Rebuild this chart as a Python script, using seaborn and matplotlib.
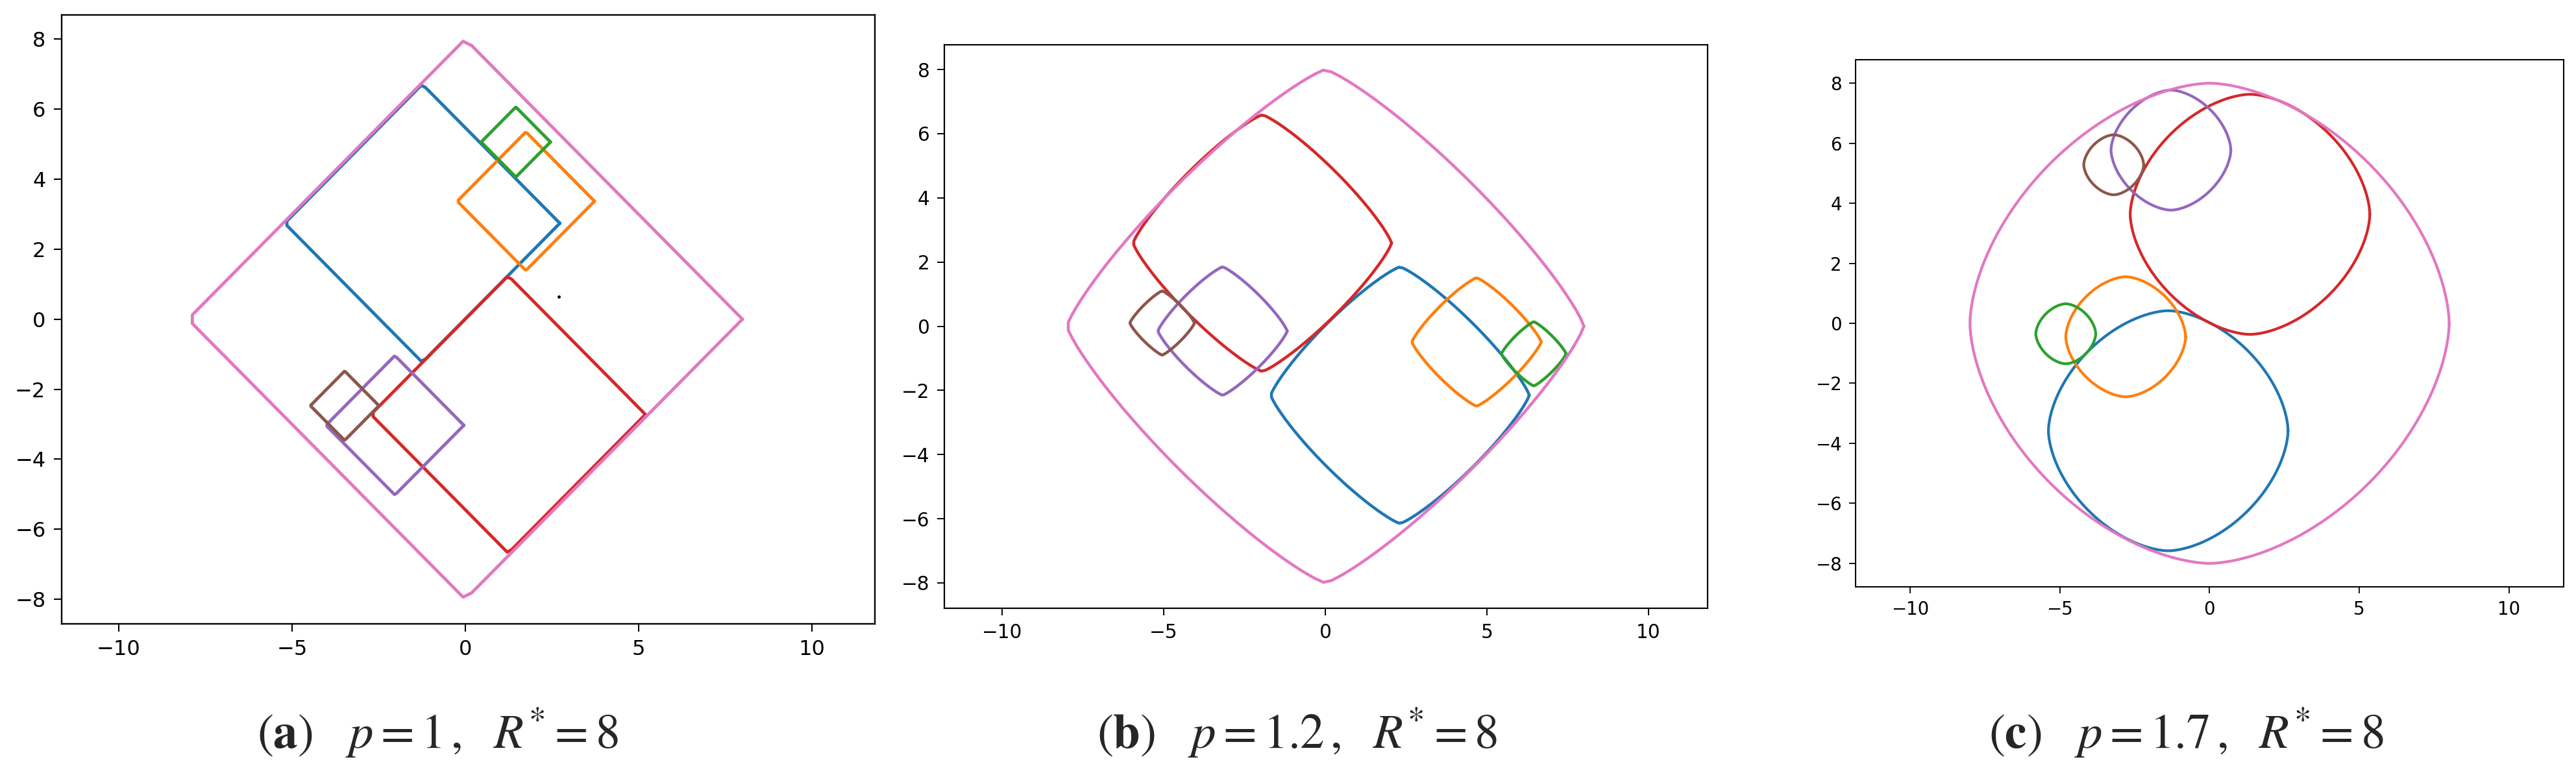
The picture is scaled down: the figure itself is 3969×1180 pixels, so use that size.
import numpy as np
import matplotlib
matplotlib.use("Agg")
import matplotlib.pyplot as plt
import seaborn as sns

sns.set_style("ticks")
plt.rcParams["font.family"] = ["DejaVu Sans"]
plt.rcParams["mathtext.fontset"] = "stix"

# centres and radii of the p-norm circles
# order: blue, orange, green, red, purple, brown, pink (container)
p_values = [1.0, 1.2, 1.7]
captions = [r"$(\mathbf{a})\ \ \ p=1\,,\ \ R^{*}=8$",
            r"$(\mathbf{b})\ \ \ p=1.2\,,\ \ R^{*}=8$",
            r"$(\mathbf{c})\ \ \ p=1.7\,,\ \ R^{*}=8$"]

cx_a = [-1.24, 1.75, 1.46, 1.24, -2.03, -3.48, 0.0]
cy_a = [2.74, 3.37, 5.06, -2.72, -3.03, -2.47, 0.0]
r_a = [3.97, 1.98, 1.0, 3.96, 1.99, 0.99, 8.0]

cx_b = [2.31, 4.68, 6.45, -1.95, -3.18, -5.05, 0.0]
cy_b = [-2.15, -0.49, -0.86, 2.59, -0.15, 0.10, 0.0]
r_b = [4.0, 2.0, 1.0, 4.0, 2.0, 1.0, 8.0]

cx_c = [-1.38, -2.80, -4.80, 1.35, -1.29, -3.20, 0.0]
cy_c = [-3.58, -0.45, -0.35, 3.63, 5.77, 5.28, 0.0]
r_c = [4.0, 2.0, 1.0, 4.0, 2.0, 1.0, 8.0]

# stray dot in panel (a)
dot_x = [2.7]
dot_y = [0.65]

panels = [(cx_a, cy_a, r_a), (cx_b, cy_b, r_b), (cx_c, cy_c, r_c)]

# layout (figure fractions) and limits per panel
rects = [[0.0239, 0.1856, 0.3157, 0.7949],
         [0.3666, 0.2059, 0.2963, 0.7356],
         [0.7203, 0.2339, 0.2749, 0.6881]]
xlims = [(-11.65, 11.82), (-11.79, 11.83), (-11.82, 11.82)]
ylims = [(-8.70, 8.69), (-8.79, 8.77), (-8.78, 8.78)]
scales = [1.0, 0.925, 0.866]
cap_x = [0.1698, 0.5034, 0.8486]

palette = sns.color_palette("tab10")

fig = plt.figure(figsize=(39.69, 11.8), dpi=100)

theta = np.linspace(0, 2 * np.pi, 200)

for i, (cxs, cys, rs) in enumerate(panels):
    ax = fig.add_axes(rects[i])
    k = scales[i]
    p = p_values[i]
    for j in range(len(rs)):
        rho = rs[j] / (np.abs(np.cos(theta)) ** p + np.abs(np.sin(theta)) ** p) ** (1 / p)
        xs = cxs[j] + rho * np.cos(theta)
        ys = cys[j] + rho * np.sin(theta)
        sns.lineplot(x=xs, y=ys, sort=False, estimator=None, color=palette[j],
                     linewidth=3.5 * k, ax=ax)
    if i == 0:
        ax.plot(dot_x, dot_y, marker="o", markersize=2.5, color="black", linestyle="none")
    ax.set_xlim(xlims[i])
    ax.set_ylim(ylims[i])
    ax.set_xticks([-10, -5, 0, 5, 10])
    ax.set_yticks([-8, -6, -4, -2, 0, 2, 4, 6, 8])
    ax.tick_params(labelsize=23 * k, length=8.6 * k, width=1.5 * k, pad=9 * k,
                   color="black", labelcolor="black")
    for s in ax.spines.values():
        s.set_linewidth(1.7 * k)
        s.set_color("black")
    ax.set_facecolor("white")
    fig.text(cap_x[i], 0.0432, captions[i], ha="center", va="center", fontsize=54)

fig.savefig("out.png", dpi=100, facecolor="white")
